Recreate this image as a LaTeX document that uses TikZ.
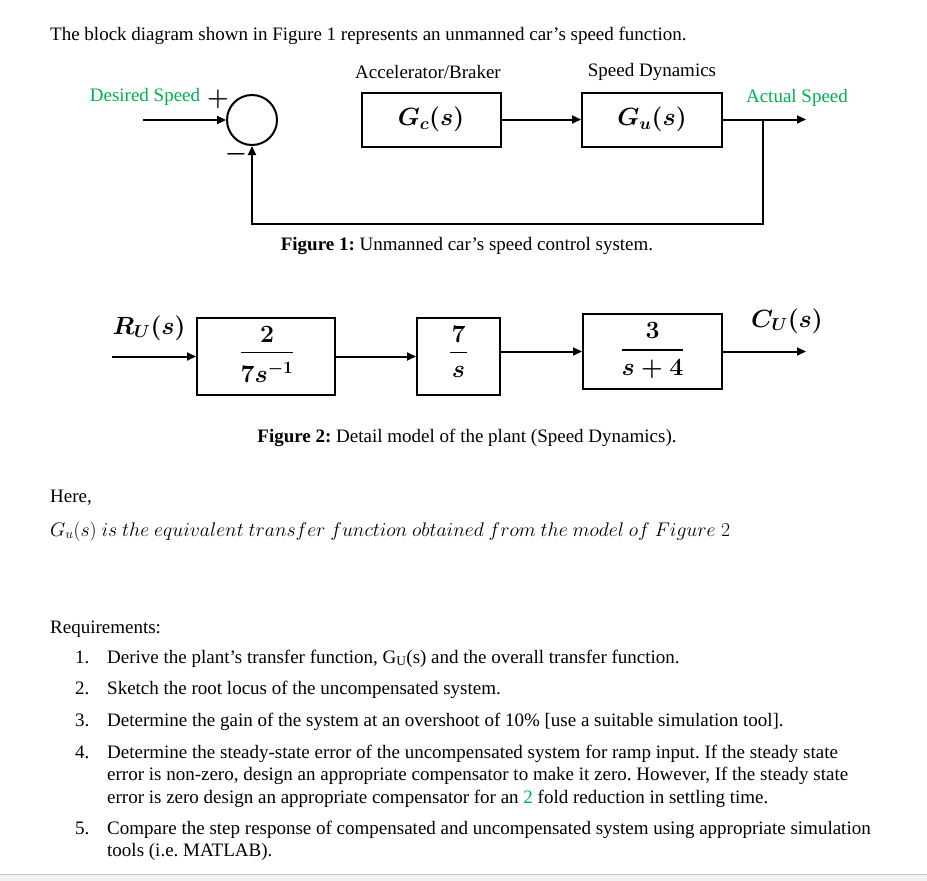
\documentclass[tikz,border=0pt]{standalone}
\usepackage{graphicx}
\usepackage{fontspec}
\setmainfont{Liberation Serif}
\usetikzlibrary{arrows.meta}
\definecolor{wgreen}{RGB}{0,176,80}
\definecolor{barline}{RGB}{200,200,200}
\definecolor{barfill}{RGB}{242,242,242}
\newcommand{\mfont}{\fontsize{23}{26}\selectfont\boldmath}
\newcommand{\tfont}{\fontsize{19}{22}\selectfont\frenchspacing}
\tikzset{
  blk/.style={draw,line width=2pt,inner sep=0pt},
  sig/.style={line width=2pt,-{Triangle[length=9pt,width=8pt]}},
  txt/.style={inner sep=0pt,font=\tfont},
  lbl/.style={inner sep=0pt,font=\tfont,anchor=base west},
  glbl/.style={inner sep=0pt,font=\tfont,text=wgreen},
  mth/.style={inner sep=0pt,font=\mfont},
  sgn/.style={inner sep=0pt,font=\fontsize{32}{32}\selectfont\boldmath},
}
\begin{document}
\begin{tikzpicture}[x=1pt,y=-1pt]
\useasboundingbox (0,0) rectangle (927,881);
\fill[barfill] (0,874) rectangle (927,881);
\draw[barline,line width=1pt] (0,874) -- (927,874);

\node[lbl] (t0) at (50,40) {The block diagram shown in Figure 1 represents an unmanned car’s speed function.};

\node[txt] (accl) at (428,72) {Accelerator/Braker};
\node[txt] (spdl) at (652,72) {Speed Dynamics};
\node[glbl] (des) at (145,97) {Desired Speed};
\node[sgn] (plus) at (218,99) {$+$};
\node[sgn] (minus) at (236,154) {$-$};
\node[glbl] (act) at (797,98) {Actual Speed};
\node[draw,circle,line width=2pt,minimum size=50pt,inner sep=0pt] (sum) at (252,120) {};
\node[blk,mth,minimum width=139pt,minimum height=54pt] (gc) at (431,119.5) {$G_c(s)$};
\node[blk,mth,minimum width=140pt,minimum height=54pt] (gu) at (652,119.5) {$G_u(s)$};
\coordinate (in1) at (143,120);
\coordinate (out1) at (806,119.5);
\coordinate (br) at (763,119.5);
\coordinate (fbc) at (763,224);
\draw[sig] (in1) -- (sum.west);
\draw[sig] (gc.east) -- (gu.west);
\draw[sig] (gu.east) -- (out1);
\draw[sig] (br) -- (fbc) -| (sum.south);
\node[txt,anchor=base] (cap1) at (467,250) {\textbf{Figure 1:} Unmanned car’s speed control system.};

\node[mth] (ru) at (149,328) {$R_U(s)$};
\node[mth] (cu) at (787,321) {$C_U(s)$};
\node[blk,minimum width=138pt,minimum height=77pt] (b1) at (266,356.5) {};
\node[blk,minimum width=83pt,minimum height=77pt] (b2) at (458.5,356.5) {};
\node[blk,minimum width=139pt,minimum height=75pt] (b3) at (652.5,351.5) {};
\node[mth] (b1n) at (267,334) {$2$};
\draw[line width=1.6pt] (241,352.5) -- (293,352.5);
\node[mth] (b1d) at (267,372) {$7s^{-1}$};
\node[mth] (b2n) at (458.5,334) {$7$};
\draw[line width=1.6pt] (450,352.5) -- (467,352.5);
\node[mth] (b2d) at (458.5,372) {$s$};
\node[mth] (b3n) at (652.5,330) {$3$};
\draw[line width=1.6pt] (622,350) -- (683,350);
\node[mth] (b3d) at (652.5,369) {$s+4$};
\coordinate (in2) at (112,356.5);
\coordinate (out2) at (806,351.5);
\draw[sig] (in2) -- (b1.west);
\draw[sig] (b1.east) -- (b2.west);
\draw[sig] (b2.east |- b3.west) -- (b3.west);
\draw[sig] (b3.east) -- (out2);
\node[txt,anchor=base] (cap2) at (467,442) {\textbf{Figure 2:} Detail model of the plant (Speed Dynamics).};

\node[lbl] (here) at (50,502) {Here,};
\node[lbl,font=\fontsize{20.74}{24}\selectfont] (gdef) at (50,536) {\resizebox{680pt}{!}{$G_u(s)\ is\ the\ equivalent\ transfer\ function\ obtained\ from\ the\ model\ of\ Figure\ 2$}};

\node[lbl] (req) at (50,633) {Requirements:};
\node[lbl] (n1) at (75,663) {1.};
\node[lbl] (r1) at (107,663) {Derive the plant’s transfer function, G\textsubscript{U}(s) and the overall transfer function.};
\node[lbl] (n2) at (75,694) {2.};
\node[lbl] (r2) at (107,694) {Sketch the root locus of the uncompensated system.};
\node[lbl] (n3) at (75,726) {3.};
\node[lbl] (r3) at (107,726) {Determine the gain of the system at an overshoot of 10\% [use a suitable simulation tool].};
\node[lbl] (n4) at (75,758) {4.};
\node[lbl] (r4a) at (107,758) {Determine the steady-state error of the uncompensated system for ramp input. If the steady state};
\node[lbl] (r4b) at (107,780) {error is non-zero, design an appropriate compensator to make it zero. However, If the steady state};
\node[lbl] (r4c) at (107,803) {error is zero design an appropriate compensator for an \textcolor{wgreen}{2} fold reduction in settling time.};
\node[lbl] (n5) at (75,834) {5.};
\node[lbl] (r5a) at (107,834) {Compare the step response of compensated and uncompensated system using appropriate simulation};
\node[lbl] (r5b) at (107,856) {tools (i.e. MATLAB).};
\end{tikzpicture}
\end{document}
